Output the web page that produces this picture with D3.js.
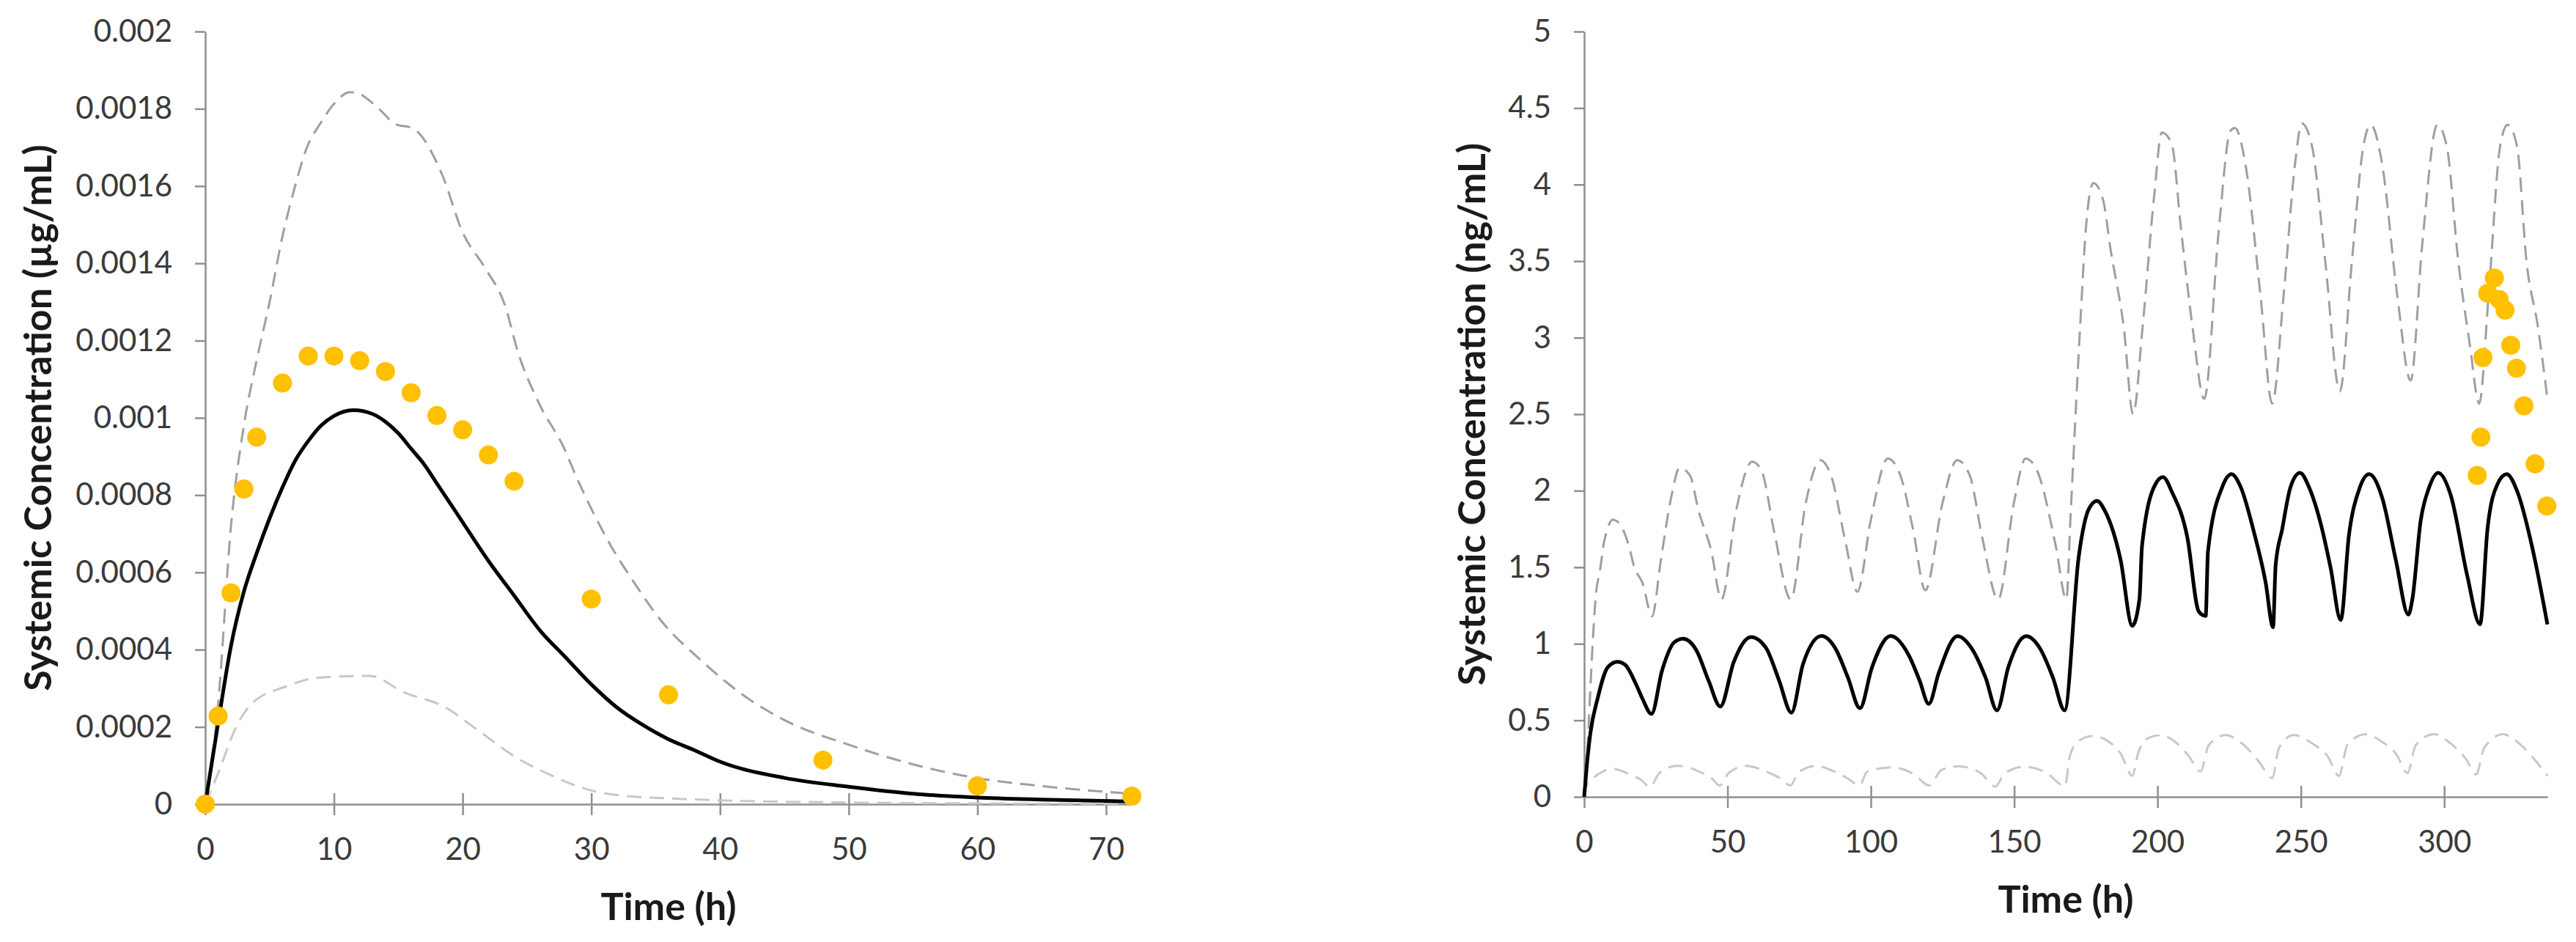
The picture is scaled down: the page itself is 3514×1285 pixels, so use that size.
<!DOCTYPE html>
<html>
<head>
<meta charset="utf-8">
<script src="https://cdn.jsdelivr.net/npm/d3@7"></script>
<style>
  body { margin: 0; background: #fff; }
  svg { display: block; }
</style>
</head>
<body>
<div id="chart"></div>
<script>
// Canvas
const width = 3514;
const height = 1285;

// ---- Left panel data (single dose, µg/mL) ----
const leftXTicks = [0, 10, 20, 30, 40, 50, 60, 70];
const leftYTicks = [0, 0.0002, 0.0004, 0.0006, 0.0008, 0.001, 0.0012, 0.0014, 0.0016, 0.0018, 0.002];

const leftMedian = [[0,0],[1,0.00021],[2,0.00041],[3,0.00055],[4,0.00065],[5,0.00074],[6,0.00082],[7,0.00089],
  [8,0.00094],[9,0.00098],[10,0.001005],[11.5,0.00102],[13,0.00101],[14,0.00099],[15,0.00096],[16,0.00092],
  [17,0.00088],[18,0.00083],[19,0.00078],[20,0.00073],[22,0.00063],[24,0.00054],[26,0.00045],[28,0.00038],
  [30,0.00031],[32,0.00025],[34,0.000205],[36,0.000168],[38,0.00014],[40,0.00011],[45,0.000068],[50,0.000045],
  [55,0.000027],[60,0.000017],[65,0.000012],[68.4,0.0000095],[72,0.000007]];

const leftP95 = [[0,0],[1,0.00026],[2,0.00072],[3,0.00098],[4,0.00115],[5,0.0013],[6,0.00147],[6.9,0.00159],
  [7.9,0.0017],[8.9,0.00176],[10.2,0.00182],[11.2,0.001843],[11.9,0.00184],[12.8,0.00182],[13.5,0.0018],
  [14.8,0.00176],[16.1,0.00175],[18.4,0.00163],[20,0.00148],[21.7,0.00139],[23.3,0.00129],[24.3,0.00117],
  [25.9,0.00104],[27.9,0.00092],[28.8,0.00085],[31.5,0.00067],[33.4,0.00057],[35.3,0.00048],[38.6,0.00037],
  [41.9,0.00028],[45.1,0.000216],[50,0.000154],[54.9,0.000104],[59.9,0.000068],[64.8,0.0000475],[72,0.000027]];

const leftP05 = [[0,0],[1,0.00008],[2.4,0.0002],[3.6,0.00026],[6.3,0.000305],[8.9,0.000328],[12.8,0.000332],
  [15.4,0.00029],[18.7,0.00025],[21,0.000196],[24.3,0.000118],[26.6,0.000079],[29.5,0.00004],[33.1,0.00002],
  [36,0.000015],[40,0.00001],[48,0.000005],[60,0.000002],[72,0.000001]];

const leftObsTime = [0, 1, 2, 3, 4, 6, 8, 10, 12, 14, 16, 18, 20, 22, 24, 30, 36, 48, 60, 72];
const leftObsConc = [0, 0.000228, 0.000547, 0.000816, 0.00095, 0.00109, 0.00116, 0.00116, 0.001148, 0.00112,
  0.001065, 0.001006, 0.000969, 0.000904, 0.000836, 0.000531, 0.000283, 0.000114, 0.0000475, 0.000021];

// ---- Right panel data (multiple dosing, ng/mL) ----
const rightXTicks = [0, 50, 100, 150, 200, 250, 300];
const rightYTicks = [0, 0.5, 1, 1.5, 2, 2.5, 3, 3.5, 4, 4.5, 5];

const rightMedian = [[0,0],[1,0.22],[2.2,0.42],[4.7,0.643],[8.2,0.846],[11.6,0.882],[14.2,0.864],[18.1,0.735],
  [20.3,0.643],[23.5,0.542],[27.2,0.827],[31.5,1.011],[34.5,1.033],[39.2,0.956],[43.5,0.754],[47.5,0.59],
  [52.2,0.882],[58.2,1.044],[63.4,0.974],[68,0.76],[72.3,0.55],[76.3,0.864],[82.8,1.051],[87.5,0.974],[92,0.78],
  [96.2,0.579],[100.4,0.846],[106.9,1.051],[113.4,0.919],[117,0.76],[120.2,0.607],[123.7,0.81],[130.2,1.05],
  [135.5,0.96],[140,0.78],[144,0.565],[148,0.85],[154.2,1.05],[159,0.97],[163.5,0.78],[167.6,0.565],
  [172.5,1.567],[176,1.879],[178.9,1.934],[181.6,1.87],[187.1,1.549],[191.2,1.118],[193.7,1.292],[194.6,1.64],
  [199.3,2.044],[201.9,2.089],[205.1,1.989],[210.4,1.695],[214.4,1.21],[216.8,1.182],[217.6,1.604],[222.6,2.025],
  [225.8,2.108],[229,2.025],[233.6,1.732],[237.7,1.402],[240.3,1.109],[241.2,1.512],[243.5,1.75],[246.4,2.025],
  [249.7,2.117],[252.8,2.025],[256.9,1.787],[260.4,1.494],[263.9,1.155],[266.8,1.714],[270.3,2.007],[273.8,2.108],
  [278.4,1.952],[283.1,1.549],[287.5,1.191],[288.9,1.292],[291.8,1.805],[294.8,2.025],[297.9,2.117],[302.3,1.97],
  [308.1,1.439],[312.5,1.127],[315.1,1.75],[318.6,2.044],[321.8,2.108],[325.6,1.989],[330.8,1.622],[336,1.127]];

const rightP95 = [[0,0],[1,0.25],[1.7,0.52],[3,1.01],[4,1.3],[5.6,1.49],[6.9,1.66],[7.8,1.73],[9.9,1.81],
  [12.1,1.79],[15.1,1.67],[17.7,1.49],[20.3,1.4],[23.7,1.18],[26.7,1.54],[30.4,1.96],[33.3,2.15],[36.9,2.1],
  [39.9,1.87],[44.3,1.61],[47.9,1.29],[53,1.87],[58.6,2.19],[61.9,2.13],[66.3,1.73],[72.1,1.29],[77.3,1.92],
  [82.4,2.2],[86.1,2.1],[91.2,1.66],[95.3,1.34],[100,1.81],[105.9,2.21],[110.3,2.1],[114.7,1.75],[119,1.35],
  [125,1.92],[130.1,2.2],[134.5,2.1],[138.9,1.69],[144.4,1.29],[149.9,1.92],[154,2.21],[158,2.13],[164.5,1.64],
  [168.2,1.29],[169.7,1.85],[173,3.07],[175,3.71],[177.6,4.01],[181,3.9],[183.6,3.58],[188.2,3.07],[191.5,2.5],
  [194.8,3.07],[198.8,3.92],[201.5,4.34],[204.9,4.27],[208.2,3.71],[212.2,3.07],[216.3,2.6],[221.4,3.71],
  [225.4,4.35],[227,4.37],[230.6,4.14],[235.9,3.28],[240,2.57],[244,3.28],[248,4.14],[250.3,4.4],[253.9,4.25],
  [258.5,3.5],[263.6,2.65],[267.8,3.5],[271.8,4.25],[274.4,4.39],[278.3,4.14],[283.6,3.28],[288.3,2.72],
  [292.3,3.6],[297.6,4.39],[300.9,4.25],[304.9,3.5],[308.9,2.96],[312.2,2.57],[315.5,3.28],[319.5,4.25],
  [322.1,4.39],[325.4,4.25],[328.7,3.5],[332.7,3.07],[336,2.6]];

const rightP05 = [[0,0],[0.4,0.055],[3,0.12],[6,0.16],[9.9,0.184],[13,0.17],[16.8,0.138],[20,0.11],[22.8,0.064],
  [26.3,0.156],[32.3,0.202],[36,0.195],[40.1,0.165],[44,0.13],[47.4,0.074],[50.4,0.156],[56.5,0.202],[63.4,0.165],
  [68,0.125],[72,0.074],[74.6,0.156],[80.6,0.202],[88.4,0.156],[92,0.12],[96.1,0.074],[98.7,0.165],[107.3,0.193],
  [115.1,0.147],[120.3,0.074],[124.6,0.175],[130.5,0.2],[138,0.16],[143.5,0.067],[146.5,0.15],[153.5,0.197],
  [161,0.16],[167.8,0.07],[169.2,0.247],[172,0.357],[177.2,0.398],[182.4,0.367],[187.1,0.284],[191.2,0.137],
  [193.2,0.284],[196.9,0.385],[201,0.403],[206.3,0.357],[210.9,0.266],[215,0.165],[217.9,0.339],[223.7,0.403],
  [230.1,0.339],[235.4,0.229],[240,0.123],[242.4,0.321],[247.6,0.403],[254,0.348],[259.3,0.266],[263.3,0.137],
  [266.2,0.339],[272.6,0.409],[278.5,0.357],[283.1,0.284],[287.2,0.156],[290.1,0.339],[296.5,0.409],[302.3,0.348],
  [307.6,0.247],[311.1,0.147],[314,0.321],[320.4,0.409],[326.2,0.348],[331.4,0.247],[336,0.137]];

const rightObsTime = [311.5, 312.8, 313.5, 315.2, 317.5, 319.2, 321.2, 323.2, 325.2, 327.8, 331.7, 335.8];
const rightObsConc = [2.1, 2.35, 2.87, 3.29, 3.39, 3.25, 3.18, 2.95, 2.8, 2.555, 2.175, 1.9];

// Styles
const fontFamily = "Lato, 'Open Sans', sans-serif";
const axisColor = "#8f8f8f";
const labelColor = "#3a3a3a";
const obsColor = "#FFC000";

const svg = d3.select("#chart").append("svg")
    .attr("width", width)
    .attr("height", height);

svg.append("rect").attr("width", width).attr("height", height).attr("fill", "#fff");

function drawPanel(p) {
    const x = d3.scaleLinear().domain(p.xDomain).range([p.left, p.right]);
    const y = d3.scaleLinear().domain(p.yDomain).range([p.bottom, p.top]);
    const g = svg.append("g");

    // y axis (ticks outward)
    const yAxis = g.append("g")
        .attr("transform", `translate(${p.left},0)`)
        .call(d3.axisLeft(y).tickValues(p.yTicks).tickSizeInner(14).tickSizeOuter(0)
            .tickPadding(31).tickFormat(p.yFormat));

    // x axis (ticks cross the line)
    const xAxis = g.append("g")
        .attr("transform", `translate(0,${p.bottom})`)
        .call(d3.axisBottom(x).tickValues(p.xTicks).tickSizeInner(15).tickSizeOuter(0)
            .tickPadding(31).tickFormat(d3.format("d")));
    xAxis.selectAll(".tick line").attr("y1", -15).attr("y2", 15);

    [yAxis, xAxis].forEach(a => {
        a.selectAll("path, line").attr("stroke", axisColor).attr("stroke-width", 2.5);
        a.selectAll("text")
            .attr("fill", labelColor)
            .style("font-family", fontFamily)
            .style("font-size", "42px");
    });

    const line = d3.line()
        .x(d => x(d[0]))
        .y(d => y(d[1]))
        .curve(d3.curveMonotoneX);

    g.append("path").datum(p.p05)
        .attr("fill", "none").attr("stroke", "#c8c8c8").attr("stroke-width", 3)
        .attr("stroke-dasharray", "20,11").attr("d", line);

    g.append("path").datum(p.p95)
        .attr("fill", "none").attr("stroke", "#9f9f9f").attr("stroke-width", 3)
        .attr("stroke-dasharray", "20,11").attr("d", line);

    g.append("path").datum(p.median)
        .attr("fill", "none").attr("stroke", "#000").attr("stroke-width", 5)
        .attr("stroke-linejoin", "round").attr("d", line);

    g.append("g").selectAll("circle")
        .data(p.obsTime.map((t, i) => [t, p.obsConc[i]]))
        .enter().append("circle")
        .attr("cx", d => x(d[0]))
        .attr("cy", d => y(d[1]))
        .attr("r", 13)
        .attr("fill", obsColor);

    // axis titles
    g.append("text")
        .attr("x", (p.left + p.right) / 2)
        .attr("y", p.bottom + 158)
        .attr("text-anchor", "middle")
        .style("font-family", fontFamily)
        .style("font-weight", "bold")
        .style("font-size", "52px")
        .attr("fill", "#1a1a1a")
        .text("Time (h)");

    g.append("text")
        .attr("transform", `translate(${p.yTitleX},${(p.top + p.bottom) / 2}) rotate(-90)`)
        .attr("text-anchor", "middle")
        .style("font-family", fontFamily)
        .style("font-weight", "bold")
        .style("font-size", "52px")
        .attr("fill", "#1a1a1a")
        .text(p.yTitle);
}

drawPanel({
    left: 280, right: 1544, top: 43, bottom: 1097, yTitleX: 70,
    xDomain: [0, 72], yDomain: [0, 0.002],
    xTicks: leftXTicks, yTicks: leftYTicks,
    yFormat: d => String(+d.toFixed(4)),
    median: leftMedian, p95: leftP95, p05: leftP05,
    obsTime: leftObsTime, obsConc: leftObsConc,
    yTitle: "Systemic Concentration (µg/mL)"
});

drawPanel({
    left: 2161, right: 3475, top: 43, bottom: 1087, yTitleX: 2026,
    xDomain: [0, 336], yDomain: [0, 5],
    xTicks: rightXTicks, yTicks: rightYTicks,
    yFormat: d => String(d),
    median: rightMedian, p95: rightP95, p05: rightP05,
    obsTime: rightObsTime, obsConc: rightObsConc,
    yTitle: "Systemic Concentration (ng/mL)"
});
</script>
</body>
</html>
